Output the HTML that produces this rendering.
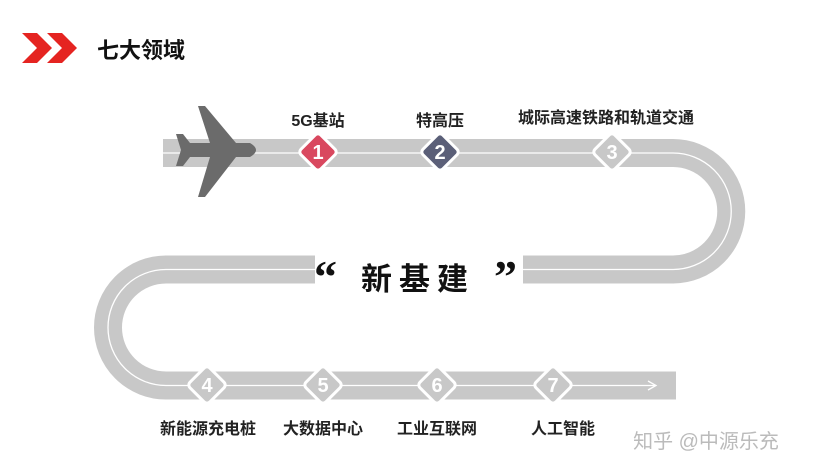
<!DOCTYPE html>
<html><head><meta charset="utf-8"><style>
body{margin:0;width:816px;height:475px;background:#fff;overflow:hidden;position:relative;font-family:"Liberation Sans","Noto Sans CJK SC",sans-serif}
.t{position:absolute;font-weight:bold;color:#222;white-space:nowrap;transform:translateX(-50%);font-size:15px}
.q{position:absolute;font-family:"Liberation Serif",serif;font-weight:bold;font-size:46px;color:#111;line-height:1}
</style></head><body>
<svg width="816" height="475" style="position:absolute;left:0;top:0">
 <polygon points="22,33 37,33 52,48 37,63 22,63 37,48" fill="#e52421"/>
 <polygon points="47,33 62,33 77,48 62,63 47,63 62,48" fill="#e52421"/>
 <path d="M163,153 H673 A58.25,58.25 0 0 1 673,269.5 H166 A58,58 0 0 0 166,385.5 H676" fill="none" stroke="#c8c8c8" stroke-width="28"/>
 <rect x="315" y="250" width="208" height="38" fill="#fff"/>
 <path d="M163,153 H673 A58.25,58.25 0 0 1 673,269.5 H523 M315,269.5 H166 A58,58 0 0 0 166,385.5 H655" fill="none" stroke="#fff" stroke-width="1.3"/>
 <polyline points="648,381 656,385.5 648,390" fill="none" stroke="#fff" stroke-width="1.3"/>
 <g fill="#6b6b6b">
  <path d="M198,106 L205,106 L236,143 L250,143 Q262,150 250,157 L236,157 L205,197 L198,197 L210,157 L190,157 L183,166 L176,166 L181,150 L176,134 L183,134 L190,143 L210,143 Z"/>
 </g>
 <g font-family="Liberation Sans, sans-serif" font-weight="bold" font-size="20" text-anchor="middle">
  <g transform="translate(318,152)"><rect x="-14" y="-14" width="28" height="28" rx="4" transform="rotate(45)" fill="#d9485f" stroke="#fff" stroke-width="3"/><text y="7" fill="#fff">1</text></g>
  <g transform="translate(440,152)"><rect x="-14" y="-14" width="28" height="28" rx="4" transform="rotate(45)" fill="#5b5f78" stroke="#fff" stroke-width="3"/><text y="7" fill="#fff">2</text></g>
  <g transform="translate(612,152)"><rect x="-14" y="-14" width="28" height="28" rx="4" transform="rotate(45)" fill="#c8c8c8" stroke="#fff" stroke-width="3"/><text y="7" fill="#fff">3</text></g>
  <g transform="translate(207,385)"><rect x="-14" y="-14" width="28" height="28" rx="4" transform="rotate(45)" fill="#c8c8c8" stroke="#fff" stroke-width="3"/><text y="7" fill="#fff">4</text></g>
  <g transform="translate(323,385)"><rect x="-14" y="-14" width="28" height="28" rx="4" transform="rotate(45)" fill="#c8c8c8" stroke="#fff" stroke-width="3"/><text y="7" fill="#fff">5</text></g>
  <g transform="translate(437,385)"><rect x="-14" y="-14" width="28" height="28" rx="4" transform="rotate(45)" fill="#c8c8c8" stroke="#fff" stroke-width="3"/><text y="7" fill="#fff">6</text></g>
  <g transform="translate(553,385)"><rect x="-14" y="-14" width="28" height="28" rx="4" transform="rotate(45)" fill="#c8c8c8" stroke="#fff" stroke-width="3"/><text y="7" fill="#fff">7</text></g>
 </g>
</svg>
<div class="t" style="left:141px;top:33px;font-size:22px;color:#111">七大领域</div>
<div class="t" style="left:318px;top:107px;font-size:16px">5G基站</div>
<div class="t" style="left:440px;top:107px;font-size:16px">特高压</div>
<div class="t" style="left:606px;top:104px;font-size:16px">城际高速铁路和轨道交通</div>
<div class="q" style="left:314px;top:254px">“</div>
<div class="q" style="left:494px;top:254px">”</div>
<div class="t" style="left:418px;top:254px;font-size:31px;letter-spacing:7px;color:#111">新基建</div>
<div class="t" style="left:208px;top:415px;font-size:16px">新能源充电桩</div>
<div class="t" style="left:323px;top:415px;font-size:16px">大数据中心</div>
<div class="t" style="left:437px;top:415px;font-size:16px">工业互联网</div>
<div class="t" style="left:563px;top:415px;font-size:16px">人工智能</div>
<div class="t" style="left:706px;top:425px;font-size:20px;font-weight:normal;color:#bbb">知乎 @中源乐充</div>
</body></html>
